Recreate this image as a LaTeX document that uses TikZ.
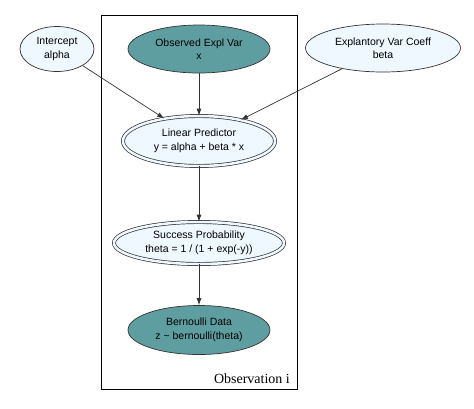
\documentclass[tikz,border=0pt]{standalone}
\usepackage{fontspec}
\setmainfont{Liberation Sans}
\newfontfamily\platefont{Liberation Serif}
\usetikzlibrary{shapes.geometric}
\usetikzlibrary{arrows.meta}
\tikzset{>={Latex[width=5pt,length=7pt]}}
\definecolor{obsfill}{HTML}{5F9EA0}
\definecolor{latfill}{HTML}{F0F8FF}
\definecolor{edgecol}{HTML}{333333}

\begin{document}
\begin{tikzpicture}[
    x = 1pt, y = -1pt,
    every node/.style = {font=\fontsize{10.5}{13.5}\selectfont, align=center},
    var/.style = {ellipse, draw=edgecol, line width=0.7pt, inner sep=0pt},
    observed/.style = {var, fill=obsfill},
    prior/.style = {var, fill=latfill},
    derived/.style = {var, fill=latfill, double=latfill, double distance=2.5pt},
    link/.style = {->, draw=edgecol, line width=0.7pt}
  ]
  \useasboundingbox (0,0) rectangle (474,408);

  \node[draw=black, line width=0.8pt, minimum width=196pt, minimum height=374pt] (PLATE) at (199,202) {};
  \node[anchor=south east, font=\platefont\fontsize{14}{16}\selectfont] (PLATELBL)
    at ([xshift=-4pt, yshift=2pt]PLATE.south east) {Observation i};

  \node[prior, minimum width=74pt, minimum height=45pt] (ALPHA) at (57,49) {Intercept\\alpha};
  \node[observed, minimum width=142pt, minimum height=48pt] (X) at (199,49) {Observed Expl Var\\x};
  \node[prior, minimum width=155pt, minimum height=48pt] (BETA) at (383,48) {Explantory Var Coeff\\beta};

  \node[derived, minimum width=152pt, minimum height=50pt] (Y) at (199,141) {Linear Predictor\\y = alpha + beta * x};
  \node[derived, minimum width=170pt, minimum height=42pt] (THETA) at (199,243) {Success Probability\\theta = 1 / (1 + exp(-y))};
  \node[observed, minimum width=142pt, minimum height=49pt] (Z) at (199,330) {Bernoulli Data\\z \char`~{} bernoulli(theta)};

  \draw[link] (ALPHA) -- (Y);
  \draw[link] (X) -- (Y);
  \draw[link] (BETA) -- (Y);
  \draw[link] (Y) -- (THETA);
  \draw[link] (THETA) -- (Z);
\end{tikzpicture}
\end{document}
